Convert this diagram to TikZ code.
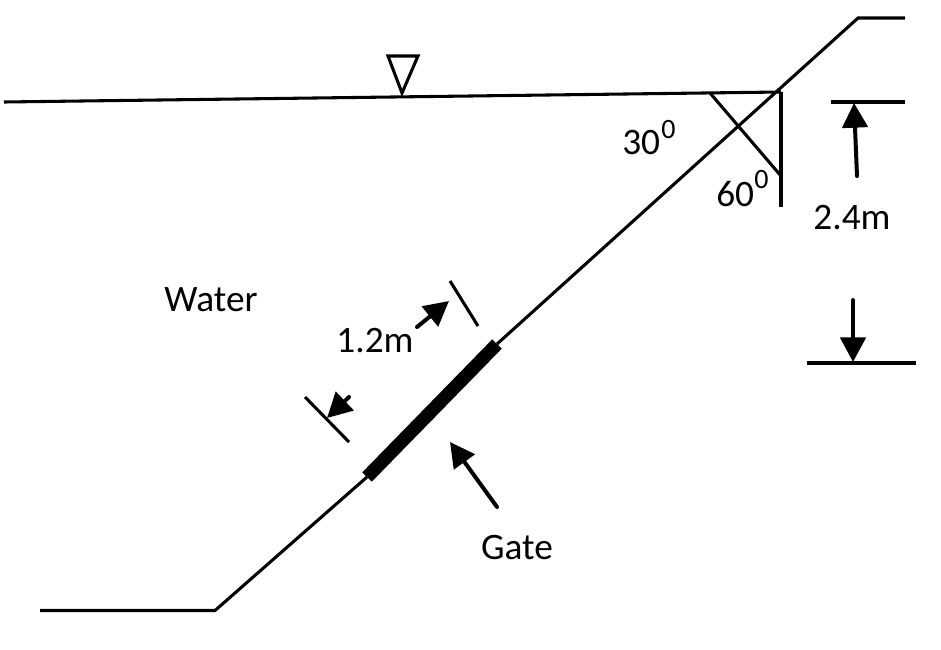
\documentclass[tikz,border=0pt]{standalone}
\usepackage{fontspec}
\setmainfont{Carlito}
\usetikzlibrary{arrows.meta}
\tikzset{
  ln/.style={line width=2.3pt,black},
  arr/.style={line width=3pt,black,line cap=round,-{Triangle[length=18.5pt,width=19pt]}},
  lbl/.style={inner sep=0pt,font=\fontsize{28}{32}\selectfont},
  sup0/.style={inner sep=0pt,anchor=west,font=\fontsize{21}{24}\selectfont},
}
\begin{document}
\begin{tikzpicture}[x=1pt,y=-1pt,xscale=0.75,yscale=0.75]
\useasboundingbox (0,0) rectangle (941,649);
\coordinate (a) at (40,610.5); \coordinate (b) at (215,610.5);
\coordinate (g1) at (367,477); \coordinate (g2) at (497,344);
\coordinate (t) at (858,18); \coordinate (t2) at (905,18);
\draw[ln] (a) -- (b) -- (g1);
\draw[ln] (g2) -- (t) -- (t2);
\draw[line width=10pt] (g1) -- (g2);
\coordinate (w1) at (4,102); \coordinate (w2) at (781,92);
\coordinate (vb) at (781,207);
\coordinate (d1) at (710,93); \coordinate (d2) at (781,176);
\draw[ln] (w1) -- (w2);
\draw[line width=3pt] (w2) -- (vb);
\draw[ln] (d1) -- (d2);
\draw[ln] (388,56) -- (418,56) -- (402,93) -- cycle;
\draw[ln] (831,102) -- (905,102);
\draw[ln] (807,363) -- (916,363);
\draw[arr] (857,176) -- (854,103);
\draw[arr] (853,300) -- (853,362);
\draw[ln] (450,281) -- (478,326);
\draw[ln] (305,397) -- (349,442);
\draw[arr] (417,327) -- (449,301);
\draw[arr] (349,397) -- (327,418);
\draw[arr] (497,507) -- (450,442);
\node[lbl] (w) at (211,300) {Water};
\node[lbl] (d) at (375,341) {1.2m};
\node[lbl] (g) at (517,548) {Gate};
\node[lbl] (h) at (852,218) {2.4m};
\node[lbl,anchor=west] (a30) at (622,143) {30};
\node[sup0] (s30) at (661,130) {0};
\node[lbl,anchor=west] (a60) at (716,194) {60};
\node[sup0] (s60) at (754,180) {0};
\end{tikzpicture}
\end{document}
